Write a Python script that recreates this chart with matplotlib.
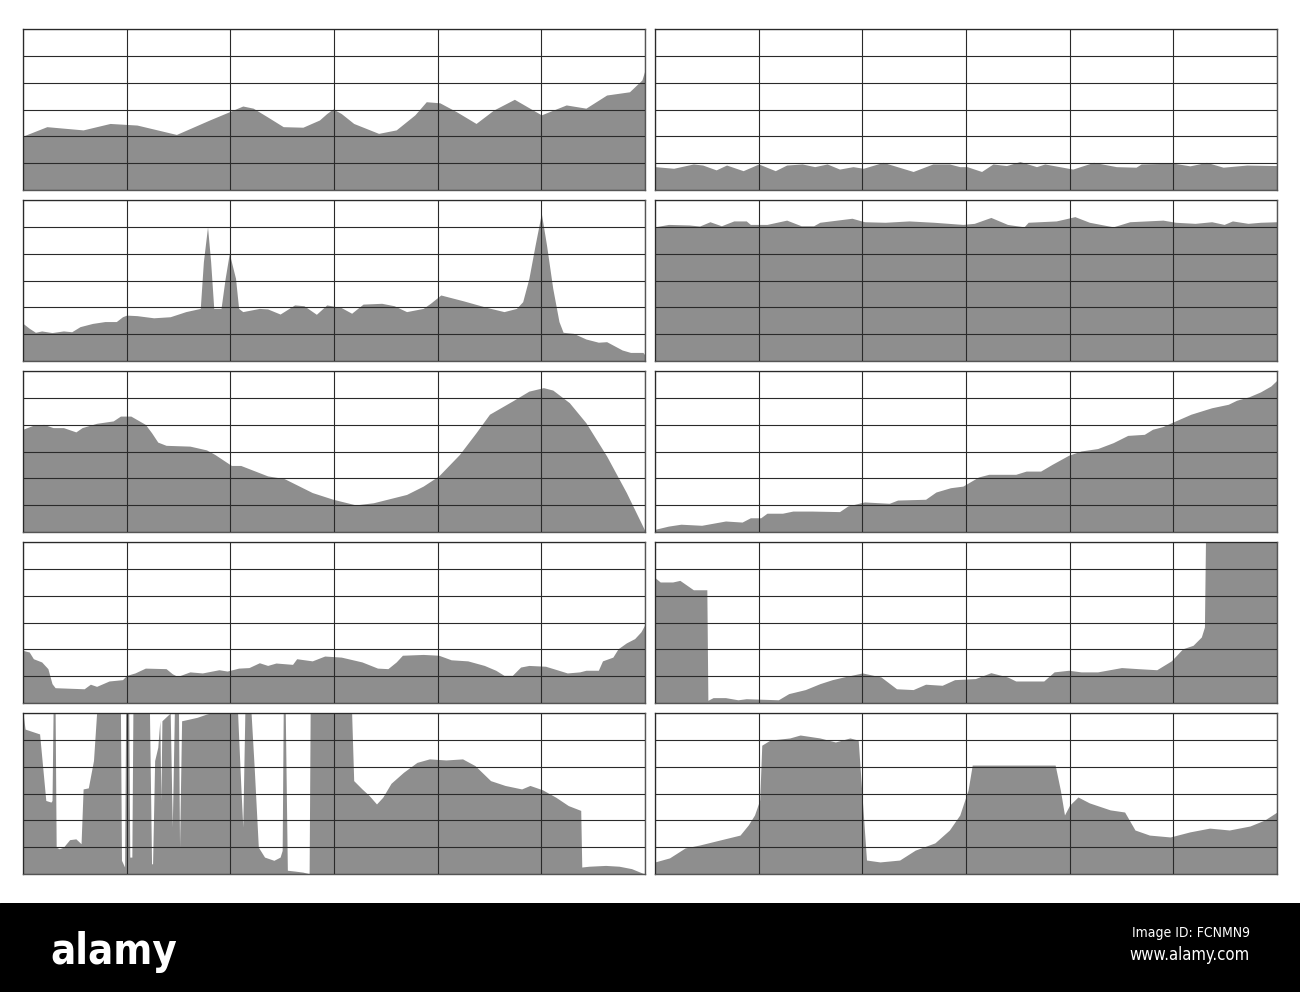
import numpy as np
import matplotlib.pyplot as plt
from matplotlib.patches import Rectangle

# panel data: x in grid columns (0..6), y in grid rows (0..6)
p1_x = [0, 0.23, 0.58, 0.84, 1.10, 1.48, 1.80, 1.98, 2.12, 2.22, 2.36, 2.51, 2.70, 2.86,
        2.93, 2.99, 3.07, 3.19, 3.43, 3.60, 3.78, 3.89, 4.02, 4.18, 4.37, 4.54, 4.74,
        5.00, 5.24, 5.43, 5.63, 5.85, 5.97, 6.0]
p1_y = [2.01, 2.36, 2.24, 2.48, 2.42, 2.07, 2.61, 2.90, 3.13, 3.05, 2.72, 2.36, 2.34, 2.61,
        2.85, 3.02, 2.85, 2.48, 2.11, 2.24, 2.80, 3.29, 3.25, 2.92, 2.48, 2.98, 3.38,
        2.80, 3.17, 3.05, 3.54, 3.66, 4.10, 4.47]

p2_x = [0, 0.18, 0.37, 0.46, 0.59, 0.69, 0.85, 1.0, 1.16, 1.27, 1.42, 1.54, 1.66, 1.78,
        1.91, 2.01, 2.20, 2.49, 2.68, 2.84, 2.94, 3.01, 3.15, 3.26, 3.39, 3.52, 3.68,
        3.76, 4.03, 4.23, 4.45, 4.64, 4.69, 5.0, 5.16, 5.32, 5.48, 5.71, 6.0]
p2_y = [0.87, 0.81, 0.97, 0.93, 0.75, 0.93, 0.72, 0.97, 0.72, 0.93, 0.97, 0.87, 0.97, 0.78,
        0.87, 0.81, 1.03, 0.69, 0.97, 0.97, 0.87, 0.87, 0.69, 0.97, 0.91, 1.06, 0.87,
        0.97, 0.78, 1.03, 0.87, 0.85, 0.97, 1.0, 0.90, 1.03, 0.85, 0.93, 0.91]

p3_x = [0, 0.06, 0.12, 0.18, 0.28, 0.39, 0.47, 0.55, 0.67, 0.79, 0.90, 0.96, 1.0, 1.10,
        1.26, 1.42, 1.57, 1.71, 1.74, 1.78, 1.81, 1.84, 1.91, 1.95, 1.99, 2.05, 2.08,
        2.12, 2.28, 2.36, 2.48, 2.62, 2.71, 2.83, 2.93, 3.07, 3.17, 3.28, 3.46, 3.58,
        3.70, 3.86, 3.93, 4.03, 4.25, 4.48, 4.64, 4.76, 4.82, 4.88, 4.94, 5.0, 5.05,
        5.11, 5.17, 5.21, 5.31, 5.43, 5.55, 5.63, 5.78, 5.86, 5.98, 6.0]
p3_y = [1.40, 1.22, 1.07, 1.12, 1.06, 1.12, 1.09, 1.28, 1.40, 1.47, 1.47, 1.65, 1.71, 1.69,
        1.61, 1.65, 1.84, 1.96, 3.70, 5.0, 3.70, 1.96, 1.96, 3.08, 4.01, 3.08, 1.96,
        1.84, 1.96, 1.94, 1.75, 2.09, 2.06, 1.74, 2.09, 1.99, 1.78, 2.12, 2.15, 2.06,
        1.84, 1.96, 2.15, 2.46, 2.24, 1.99, 1.84, 1.96, 2.21, 3.08, 4.32, 5.50, 4.32,
        2.71, 1.47, 1.07, 1.03, 0.82, 0.70, 0.72, 0.41, 0.32, 0.32, 0.22]

p4_x = [0, 0.13, 0.33, 0.43, 0.53, 0.64, 0.76, 0.88, 0.92, 1.08, 1.27, 1.41, 1.53, 1.59,
        1.90, 2.02, 2.22, 2.45, 2.69, 2.97, 3.08, 3.24, 3.40, 3.56, 3.60, 3.87, 3.95,
        4.05, 4.19, 4.42, 4.58, 4.90, 5.02, 5.21, 5.37, 5.49, 5.57, 5.72, 5.84, 6.0]
p4_y = [5.0, 5.09, 5.07, 5.03, 5.19, 5.04, 5.22, 5.22, 5.09, 5.09, 5.25, 5.04, 5.04, 5.17,
        5.32, 5.19, 5.17, 5.22, 5.17, 5.09, 5.13, 5.35, 5.09, 5.0, 5.17, 5.22, 5.29,
        5.38, 5.17, 5.0, 5.19, 5.25, 5.17, 5.13, 5.19, 5.09, 5.22, 5.13, 5.17, 5.19]

p5_x = [0, 0.10, 0.20, 0.29, 0.39, 0.51, 0.57, 0.71, 0.87, 0.94, 1.04, 1.18, 1.24, 1.30,
        1.38, 1.61, 1.77, 1.85, 2.01, 2.10, 2.36, 2.52, 2.79, 2.99, 3.21, 3.38, 3.70,
        3.86, 4.01, 4.21, 4.37, 4.50, 4.72, 4.88, 5.02, 5.11, 5.27, 5.43, 5.63, 5.82, 6.0]
p5_y = [3.83, 3.98, 4.01, 3.89, 3.89, 3.73, 3.89, 4.05, 4.14, 4.32, 4.32, 4.01, 3.70, 3.35,
        3.23, 3.20, 3.06, 2.89, 2.48, 2.48, 2.09, 1.99, 1.47, 1.22, 1.01, 1.09, 1.40,
        1.71, 2.09, 2.89, 3.70, 4.39, 4.88, 5.25, 5.38, 5.29, 4.82, 4.07, 2.83, 1.47, 0.04]

p6_x = [0, 0.13, 0.25, 0.45, 0.68, 0.84, 0.92, 1.02, 1.08, 1.23, 1.33, 1.51, 1.78, 1.86,
        2.02, 2.26, 2.34, 2.61, 2.71, 2.85, 2.97, 3.12, 3.22, 3.48, 3.58, 3.72, 3.83,
        3.99, 4.11, 4.27, 4.42, 4.56, 4.72, 4.80, 4.90, 4.98, 5.17, 5.37, 5.53, 5.61,
        5.73, 5.84, 5.94, 6.0]
p6_y = [0.10, 0.22, 0.29, 0.25, 0.41, 0.37, 0.53, 0.53, 0.70, 0.70, 0.78, 0.78, 0.76, 0.97,
        1.12, 1.07, 1.19, 1.22, 1.49, 1.65, 1.71, 2.05, 2.15, 2.15, 2.27, 2.27, 2.52,
        2.86, 3.02, 3.11, 3.33, 3.60, 3.64, 3.83, 3.93, 4.07, 4.39, 4.63, 4.76, 4.91,
        5.04, 5.22, 5.44, 5.66]

p7_x = [0, 0.06, 0.10, 0.18, 0.24, 0.28, 0.31, 0.59, 0.65, 0.71, 0.83, 0.96, 1.0, 1.08,
        1.18, 1.38, 1.44, 1.49, 1.61, 1.73, 1.89, 1.97, 2.08, 2.18, 2.28, 2.36, 2.44,
        2.60, 2.64, 2.79, 2.91, 3.07, 3.27, 3.42, 3.52, 3.60, 3.66, 3.86, 4.01, 4.13,
        4.29, 4.45, 4.56, 4.64, 4.72, 4.80, 4.88, 5.04, 5.15, 5.25, 5.37, 5.43, 5.55,
        5.59, 5.69, 5.74, 5.82, 5.90, 5.96, 6.0]
p7_y = [1.96, 1.90, 1.65, 1.53, 1.28, 0.72, 0.57, 0.53, 0.70, 0.62, 0.82, 0.87, 1.03, 1.12,
        1.30, 1.28, 1.09, 0.99, 1.16, 1.12, 1.24, 1.19, 1.30, 1.32, 1.50, 1.40, 1.49,
        1.44, 1.65, 1.57, 1.75, 1.71, 1.53, 1.30, 1.28, 1.53, 1.78, 1.81, 1.78, 1.61,
        1.57, 1.40, 1.22, 1.03, 1.03, 1.34, 1.40, 1.37, 1.24, 1.12, 1.16, 1.22, 1.22,
        1.57, 1.71, 2.02, 2.24, 2.40, 2.65, 2.93]

p8_x = [0, 0.05, 0.17, 0.24, 0.37, 0.50, 0.51, 0.56, 0.68, 0.80, 0.88, 1.19, 1.29, 1.45,
        1.59, 1.71, 1.82, 2.0, 2.18, 2.33, 2.49, 2.61, 2.77, 2.89, 3.09, 3.24, 3.40,
        3.48, 3.75, 3.85, 3.99, 4.11, 4.27, 4.50, 4.66, 4.84, 4.98, 5.09, 5.19, 5.27,
        5.30, 5.31, 6.0]
p8_y = [4.67, 4.51, 4.51, 4.57, 4.22, 4.22, 0.10, 0.20, 0.20, 0.12, 0.16, 0.12, 0.35, 0.50,
        0.72, 0.87, 0.97, 1.12, 0.97, 0.53, 0.50, 0.70, 0.66, 0.87, 0.91, 1.13, 0.97,
        0.82, 0.82, 1.16, 1.22, 1.16, 1.16, 1.32, 1.28, 1.24, 1.57, 2.02, 2.15, 2.46,
        2.83, 6.0, 6.0]

p9_x = [0, 0.02, 0.16, 0.22, 0.27, 0.28, 0.29, 0.31, 0.32, 0.35, 0.39, 0.45, 0.51, 0.56,
        0.58, 0.63, 0.68, 0.71, 0.94, 0.95, 0.98, 0.99, 1.02, 1.03, 1.05, 1.06, 1.22,
        1.24, 1.25, 1.27, 1.30, 1.32, 1.33, 1.34, 1.42, 1.44, 1.46, 1.50, 1.51, 1.53,
        1.60, 1.68, 1.77, 1.81, 2.07, 2.10, 2.12, 2.14, 2.20, 2.23, 2.27, 2.33, 2.42,
        2.48, 2.50, 2.51, 2.53, 2.55, 2.62, 2.70, 2.76, 2.77, 3.17, 3.19, 3.27, 3.34,
        3.41, 3.47, 3.55, 3.67, 3.80, 3.92, 4.08, 4.24, 4.36, 4.51, 4.65, 4.81, 4.89,
        5.01, 5.14, 5.26, 5.38, 5.39, 5.46, 5.62, 5.75, 5.87, 5.99]
p9_y = [6.0, 5.40, 5.22, 2.74, 2.68, 2.74, 6.0, 6.0, 1.0, 0.94, 1.0, 1.28, 1.31, 1.13,
        3.17, 3.21, 4.23, 6.0, 6.0, 0.51, 0.26, 6.0, 6.0, 0.63, 0.63, 6.0, 6.0,
        0.38, 0.38, 4.23, 4.72, 5.71, 2.74, 5.71, 6.0, 1.75, 6.0, 6.0, 1.0, 5.71,
        5.77, 5.84, 5.96, 6.0, 6.0, 3.36, 1.75, 6.0, 6.0, 3.98, 1.0, 0.63, 0.51,
        0.63, 0.88, 6.0, 6.0, 0.14, 0.11, 0.07, 0.01, 6.0, 6.0, 3.48, 3.17, 2.92,
        2.61, 2.86, 3.38, 3.79, 4.16, 4.29, 4.25, 4.29, 4.04, 3.48, 3.30, 3.17, 3.30,
        3.14, 2.86, 2.55, 2.37, 0.26, 0.29, 0.32, 0.29, 0.20, 0.01]

p10_x = [0, 0.14, 0.29, 0.43, 0.63, 0.82, 0.90, 0.96, 1.01, 1.03, 1.11, 1.30, 1.40, 1.59,
         1.74, 1.88, 1.96, 2.0, 2.04, 2.17, 2.36, 2.51, 2.70, 2.84, 2.94, 3.02, 3.06,
         3.86, 3.91, 3.95, 4.0, 4.08, 4.19, 4.39, 4.53, 4.63, 4.77, 4.97, 5.16, 5.35,
         5.54, 5.74, 5.88, 6.0]
p10_y = [0.45, 0.60, 0.97, 1.08, 1.27, 1.45, 1.83, 2.20, 2.76, 4.80, 4.99, 5.07, 5.18, 5.07,
         4.92, 5.07, 4.99, 2.76, 0.52, 0.45, 0.52, 0.89, 1.16, 1.64, 2.20, 3.13, 4.06,
         4.06, 3.13, 2.20, 2.57, 2.87, 2.65, 2.39, 2.31, 1.64, 1.45, 1.38, 1.57, 1.71,
         1.64, 1.79, 2.01, 2.31]

panels = [(p1_x, p1_y), (p2_x, p2_y), (p3_x, p3_y), (p4_x, p4_y), (p5_x, p5_y),
          (p6_x, p6_y), (p7_x, p7_y), (p8_x, p8_y), (p9_x, p9_y), (p10_x, p10_y)]

W, H = 1300, 992
fig = plt.figure(figsize=(13, 9.92), dpi=100)
fig.patch.set_facecolor('white')

col_left = [23, 655]
row_top = [29, 200, 371, 542, 713]
pw, ph = 622, 161

for i, (xs, ys) in enumerate(panels):
    r, c = divmod(i, 2)
    x0 = col_left[c]
    y0 = row_top[r]
    ax = fig.add_axes([x0 / W, 1 - (y0 + ph) / H, pw / W, ph / H])
    ax.fill_between(xs, ys, 0, color='#8e8e8e', lw=0, zorder=1)
    ax.set_xlim(0, 6)
    ax.set_ylim(0, 6)
    ax.set_xticks(range(7))
    ax.set_yticks(range(7))
    ax.grid(True, color='#2a2a2a', lw=0.8, zorder=2)
    ax.set_axisbelow(False)
    ax.tick_params(length=0, labelbottom=False, labelleft=False)
    for s in ax.spines.values():
        s.set_color('#555555')
        s.set_linewidth(1.0)

# black footer band
band = fig.add_axes([0, 0, 1, 89 / H])
band.add_patch(Rectangle((0, 0), 1, 1, color='black'))
band.set_xlim(0, 1)
band.set_ylim(0, 1)
band.axis('off')
band.text(50 / W, 0.32, 'alamy', color='white', fontsize=30, fontweight='bold',
          family='DejaVu Sans', fontstretch='condensed', ha='left', va='baseline')
band.text(1250 / W, 0.62, 'Image ID: FCNMN9', color='white', fontsize=10,
          family='DejaVu Sans', fontstretch='condensed', ha='right', va='baseline')
band.text(1250 / W, 0.36, 'www.alamy.com', color='white', fontsize=12,
          family='DejaVu Sans', fontstretch='condensed', ha='right', va='baseline')

fig.savefig('out.png', dpi=100, facecolor='white')
